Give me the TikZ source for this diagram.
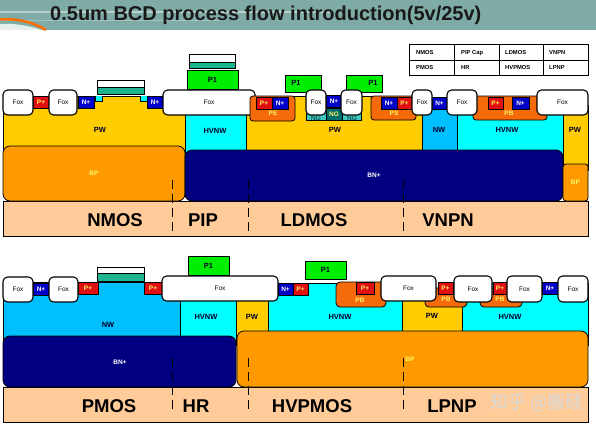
\documentclass[tikz,border=0pt]{standalone}
\usepackage{fontspec}
\setmainfont{Liberation Sans}
\newfontfamily\cjk{Noto Sans CJK SC}
\definecolor{cpw}{HTML}{FFCC00}
\definecolor{cbp}{HTML}{FF9900}
\definecolor{cbn}{HTML}{000080}
\definecolor{chv}{HTML}{00FFFF}
\definecolor{cnw}{HTML}{00BFFF}
\definecolor{cpb}{HTML}{F56A0A}
\definecolor{cnp}{HTML}{0000C8}
\definecolor{cpp}{HTML}{E01010}
\definecolor{cpo}{HTML}{00EE00}
\definecolor{cgt}{HTML}{1DB58F}
\definecolor{cng}{HTML}{006B6B}
\definecolor{cnl}{HTML}{40C8C0}
\definecolor{csub}{HTML}{FFCC99}
\definecolor{chead}{HTML}{7FABA6}
\tikzset{
  lay/.style={draw=black,line width=.8pt},
  layr/.style={lay,rounded corners=7pt},
  foxbox/.style={draw=black,line width=1.1pt,fill=white,rounded corners=4.5pt},
  lbl/.style={font=\fontsize{6.5}{6.5}\selectfont,inner sep=0pt,text=black},
  blbl/.style={font=\bfseries\fontsize{7.5}{8}\selectfont,inner sep=0pt,text=black!85!blue},
  wlbl/.style={font=\bfseries\fontsize{6.5}{6.5}\selectfont,inner sep=0pt,text=white},
  ylbl/.style={font=\bfseries\fontsize{6.5}{6.5}\selectfont,inner sep=0pt,text=yellow!60!white},
  big/.style={font=\bfseries\fontsize{18.5}{19}\selectfont,inner sep=0pt,text=black},
  leg/.style={font=\bfseries\fontsize{5.8}{6}\selectfont,inner sep=0pt,text=black,anchor=west},
  sep/.style={draw=black,line width=.9pt,dash pattern=on 9pt off 5pt},
}
% \bx{style}{fill}{name}{x1}{y1}{x2}{y2}{label style}{text}
\newcommand{\bx}[9]{\draw[#1,fill=#2] (#4,#5) rectangle (#6,#7);
  \path (#4,#5) -- (#6,#7) node[midway,#8] (#3) {#9};}
\newcommand{\foxb}[5]{\bx{foxbox}{white}{#1}{#2}{#3}{#4}{#5}{lbl}{Fox}}
\newcommand{\np}[4]{\bx{lay}{cnp}{#1}{#2}{#3}{#4}{#3+12.5}{wlbl}{N+}}
\newcommand{\pp}[4]{\bx{lay}{cpp}{#1}{#2}{#3}{#4}{#3+12.5}{ylbl}{P+}}
\begin{document}
\begin{tikzpicture}[x=1pt,y=-1pt]
\useasboundingbox (0,0) rectangle (596,428);
% header
\fill[chead] (0,0) rectangle (596,30);
\fill[white!45!chead] (0,11) rectangle (330,13);
\fill[white!30!chead] (0,20) rectangle (220,21.5);
\fill[white!80!chead] (0,24) .. controls (15,23) and (30,26) .. (42,30) -- (0,30) -- cycle;
\draw[line width=2.5pt,orange!85!red] (0,19.5) .. controls (18,18) and (35,23) .. (46,30);
\node[font=\bfseries\fontsize{20}{20}\selectfont,anchor=west,inner sep=0pt,text=black!90] (title) at (50,15) {0.5um BCD process flow introduction(5v/25v)};
% legend
\draw[line width=1pt] (409,45) rectangle (588,75);
\draw[line width=.8pt] (409,60) -- (588,60) (454,45) -- (454,75) (499,45) -- (499,75) (543,45) -- (543,75);
\node[leg] (l1) at (416,53) {NMOS};
\node[leg] (l2) at (461,53) {PIP Cap};
\node[leg] (l3) at (505,53) {LDMOS};
\node[leg] (l4) at (549,53) {VNPN};
\node[leg] (l5) at (416,68) {PMOS};
\node[leg] (l6) at (461,68) {HR};
\node[leg] (l7) at (505,68) {HVPMOS};
\node[leg] (l8) at (549,68) {LPNP};
%%%%% TOP
\bx{lay}{csub}{sub1}{3}{201}{588}{236}{big}{}
\bx{lay}{cpw}{pw1}{3}{96}{185}{160}{blbl}{}
\node[blbl] (pw1t) at (100,130) {PW};
\bx{lay}{chv}{hv1}{185}{110}{246}{160}{blbl}{}
\node[blbl] (hv1t) at (215,131) {HVNW};
\bx{lay}{cpw}{pw2}{246}{96}{422}{160}{blbl}{}
\node[blbl] (pw2t) at (335,130) {PW};
\bx{lay}{cnw}{nw1}{422}{105}{457}{160}{blbl}{}
\node[blbl] (nw1t) at (439,130) {NW};
\bx{lay}{chv}{hv2}{457}{105}{563}{160}{blbl}{}
\node[blbl] (hv2t) at (507,130) {HVNW};
\bx{lay}{cpw}{pw3}{563}{105}{588}{170}{blbl}{}
\node[blbl] (pw3t) at (575,130) {PW};
\bx{layr}{cbp}{bp1}{3}{146}{185}{201}{ylbl}{BP}
\bx{layr}{cbn}{bn1}{185}{150}{563}{201}{wlbl}{BN+}
\bx{lay,rounded corners=3pt}{cbp}{bp2}{563}{164}{588}{201}{ylbl}{BP}
% NMOS
\fill[chv] (95,96) rectangle (102,101); \fill[chv] (140,96) rectangle (147,101);
\draw[lay] (95,96) -- (95,101) -- (102,101) -- (102,96) (140,96) -- (140,101) -- (147,101);
\np{nA}{78}{96}{94}{108}
\np{nB}{147}{96}{163}{108}
\pp{pA}{33}{96}{49}{108}
\draw[lay,fill=white] (97,80) rectangle (144,87);
\draw[lay,fill=cgt] (97,87) rectangle (144,94);
\draw[line width=1pt] (97,94.5) -- (144,94.5);
\foxb{f1}{3}{90}{33}{115}
\foxb{f2}{49}{90}{77}{115}
\foxb{f3}{163}{90}{255}{115}
% PIP
\bx{lay}{cpo}{po1}{187}{70}{238}{89}{blbl}{P1}
\draw[lay,fill=white] (189,54) rectangle (235,62);
\draw[lay,fill=cgt] (189,62) rectangle (235,68);
% LDMOS
\bx{lay}{cpo}{po2}{285}{75}{321}{92}{blbl}{}
\node[blbl] (po2t) at (296,83) {P1};
\bx{lay}{cpo}{po3}{346}{75}{382}{92}{blbl}{}
\node[blbl] (po3t) at (373,83) {P1};
\bx{lay,rounded corners=3pt}{cpb}{pe}{250}{96}{295}{121}{ylbl}{}
\node[ylbl] (pet) at (273,113) {PE};
\pp{pB}{256}{97}{272}{108}
\np{nC}{272}{97}{288}{108}
\bx{lay}{cnl}{ngA}{306}{110}{326}{120}{lbl}{}
\node[lbl,text=black!60!cng] (ngAt) at (316,118) {NG};
\bx{lay}{cnl}{ngB}{342}{110}{361}{120}{lbl}{}
\node[lbl,text=black!60!cng] (ngBt) at (352,118) {NG};
\np{nD}{326}{95}{342}{108}
\bx{lay}{cng}{ngC}{326}{108}{342}{120}{ylbl}{NG}
\foxb{f4}{306}{90}{326}{115}
\foxb{f5}{341}{90}{362}{115}
\bx{lay,rounded corners=3pt}{cpb}{ps}{371}{96}{416}{120}{ylbl}{}
\node[ylbl] (pst) at (394,113) {PS};
\np{nE}{381}{97}{397}{108}
\pp{pC}{397}{97}{412}{108}
% VNPN
\np{nF}{432}{97}{447}{108}
\bx{lay,rounded corners=3pt}{cpb}{pb1}{473}{96}{547}{120}{ylbl}{}
\node[ylbl] (pb1t) at (509,113) {PB};
\pp{pD}{488}{97}{503}{108}
\np{nG}{512}{97}{529}{108}
\foxb{f6}{412}{90}{432}{115}
\foxb{f7}{447}{90}{477}{115}
\foxb{f8}{537}{90}{588}{115}
% labels and separators
\coordinate (s1a) at (172,180); \coordinate (s1b) at (172,236);
\coordinate (s2a) at (248,180); \coordinate (s2b) at (248,236);
\coordinate (s3a) at (403,180); \coordinate (s3b) at (403,236);
\draw[sep] (s1a) -- (s1b); \draw[sep] (s2a) -- (s2b); \draw[sep] (s3a) -- (s3b);
\node[big] (t1) at (115,220) {NMOS};
\node[big] (t2) at (203,220) {PIP};
\node[big] (t3) at (314,220) {LDMOS};
\node[big] (t4) at (448,220) {VNPN};
%%%%% BOTTOM
\bx{lay}{csub}{sub2}{3}{387}{588}{422}{big}{}
\bx{lay}{cnw}{nw2}{3}{282}{180}{345}{blbl}{}
\node[blbl] (nw2t) at (108,325) {NW};
\bx{lay}{chv}{hv3}{180}{295}{236}{345}{blbl}{}
\node[blbl] (hv3t) at (206,317) {HVNW};
\bx{lay}{cpw}{pw4}{236}{295}{268}{345}{blbl}{}
\node[blbl] (pw4t) at (252,317) {PW};
\bx{lay}{chv}{hv4}{268}{283}{402}{345}{blbl}{}
\node[blbl] (hv4t) at (340,317) {HVNW};
\bx{lay}{cpw}{pw5}{402}{295}{462}{345}{blbl}{}
\node[blbl] (pw5t) at (432,316) {PW};
\bx{lay}{chv}{hv5}{462}{283}{588}{345}{blbl}{}
\node[blbl] (hv5t) at (510,317) {HVNW};
\bx{layr}{cbn}{bn2}{3}{336}{236}{387}{wlbl}{}
\node[wlbl] (bn2t) at (120,362) {BN+};
\bx{layr}{cbp}{bp3}{237}{331}{588}{387}{ylbl}{}
\node[ylbl] (bp3t) at (410,359) {BP};
% PMOS
\np{nH}{33}{283}{49}{295}
\pp{pE}{78}{282}{98}{295}
\pp{pF}{144}{282}{162}{295}
\draw[lay,fill=white] (97,267) rectangle (144,273);
\draw[lay,fill=cgt] (97,273) rectangle (144,281);
\draw[line width=1pt] (97,281.5) -- (144,281.5);
\foxb{f9}{3}{277}{33}{302}
\foxb{f10}{49}{277}{78}{302}
\foxb{f11}{162}{276}{278}{301}
\bx{lay}{cpo}{po4}{188}{256}{229}{275}{blbl}{P1}
% HVPMOS
\np{nI}{278}{283}{293}{295}
\pp{pG}{293}{283}{308}{295}
\bx{lay}{cpo}{po5}{305}{261}{346}{279}{blbl}{P1}
\bx{lay,rounded corners=4pt}{cpb}{pb2}{336}{282}{386}{307}{ylbl}{}
\node[ylbl] (pb2t) at (360,300) {PB};
\pp{pH}{356}{282}{374}{295}
% LPNP
\bx{lay,rounded corners=4pt}{cpb}{pb3}{425}{288}{467}{307}{ylbl}{}
\node[ylbl] (pb3t) at (446,299) {PB};
\bx{lay,rounded corners=4pt}{cpb}{pb4}{480}{288}{522}{307}{ylbl}{}
\node[ylbl] (pb4t) at (500,299) {PB};
\pp{pI}{438}{282}{453}{295}
\pp{pJ}{493}{282}{507}{295}
\np{nJ}{542}{282}{558}{295}
\foxb{f12}{381}{276}{436}{301}
\foxb{f13}{454}{276}{492}{302}
\foxb{f14}{507}{276}{542}{302}
\foxb{f15}{558}{276}{588}{302}
\coordinate (s4a) at (172,358); \coordinate (s4b) at (172,411);
\coordinate (s5a) at (248,358); \coordinate (s5b) at (248,411);
\coordinate (s6a) at (403,358); \coordinate (s6b) at (403,411);
\draw[sep] (s4a) -- (s4b); \draw[sep] (s5a) -- (s5b); \draw[sep] (s6a) -- (s6b);
\node[big] (t5) at (109,406) {PMOS};
\node[big] (t6) at (196,406) {HR};
\node[big] (t7) at (312,406) {HVPMOS};
\node[big] (t8) at (452,406) {LPNP};
\node[font=\cjk\fontsize{18}{18}\selectfont,text=white!85!black,inner sep=0pt,anchor=east] (wm) at (584,402) {知乎 @搬硅};
\end{tikzpicture}
\end{document}
